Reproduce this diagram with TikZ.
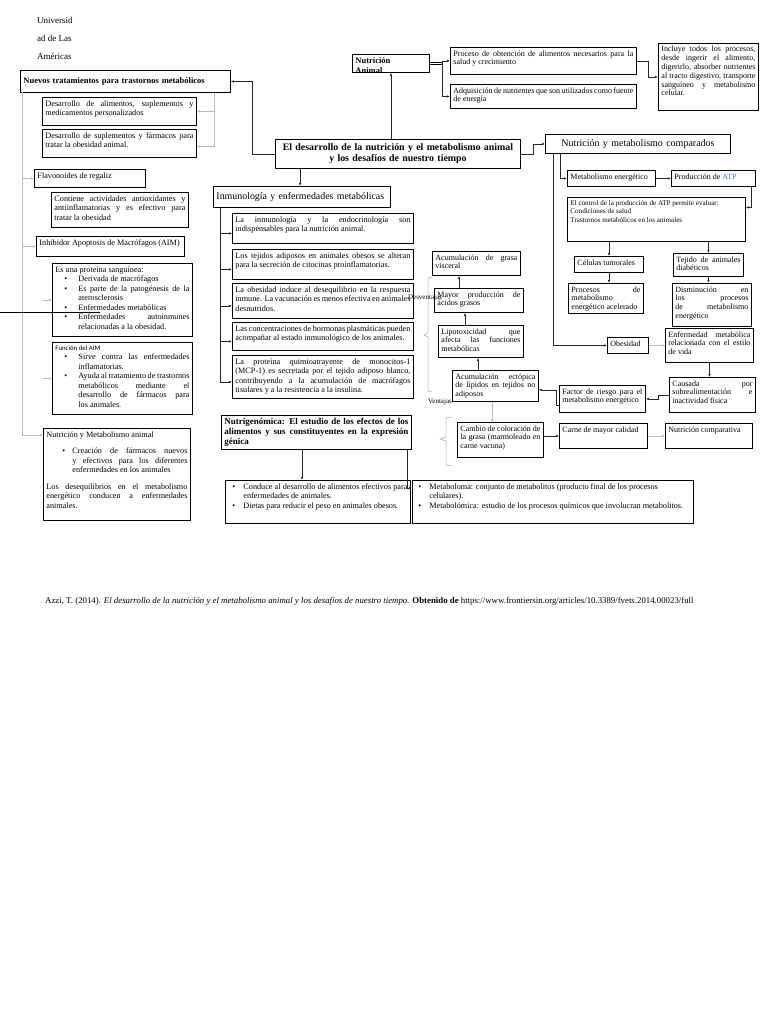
\documentclass[tikz,border=0pt]{standalone}
\usepackage{fontspec}
\setmainfont{Liberation Serif}
\newfontfamily\calfont{Carlito}
\usetikzlibrary{arrows.meta}
\definecolor{atpblue}{RGB}{68,114,196}
\newcommand{\bx}[3]{\parbox[c][#2][t]{#1}{\sloppy\hyphenpenalty=10000\exhyphenpenalty=10000 #3}}
\newcommand{\itm}[3]{\par\hangindent=#2\noindent\hbox to #2{\hskip#1\textbullet\hfil}#3}

\begin{document}
\begin{tikzpicture}[x=1pt,y=-1pt,>={Latex[length=3pt,width=2.4pt]},
  cbox/.style={draw,line width=0.9pt,inner sep=3pt,anchor=north west,font=\fontsize{8.2}{9.5}\selectfont},
  sbox/.style={cbox,font=\fontsize{8}{8.8}\selectfont},
  hbox/.style={cbox,font=\fontsize{8.5}{10}\selectfont\bfseries},
  link/.style={->,line width=0.5pt,black!85},
  glink/.style={link,gray!55}]
\useasboundingbox (0,0) rectangle (768,1024);

% encabezado
\node[anchor=north west,align=left,inner sep=0pt,font=\fontsize{9}{18}\selectfont] (uni) at (37,17) {Universid\\ad de Las\\Américas};

% columna izquierda
\node[hbox,text width=204pt,minimum height=22pt] (nt) at (20,70) {Nuevos tratamientos para trastornos metabólicos};
\node[cbox] (ds1) at (42,97) {\bx{148pt}{22pt}{Desarrollo de alimentos, suplementos y medicamentos personalizados}};
\node[cbox] (ds2) at (42,129) {\bx{148pt}{22pt}{Desarrollo de suplementos y fármacos para tratar la obesidad animal.}};
\node[cbox] (flv) at (34,169) {\bx{105pt}{12pt}{Flavonoides de regaliz}};
\node[cbox] (flvd) at (51,192) {\bx{131pt}{29pt}{Contiene actividades antioxidantes y antiinflamatorias y es efectivo para tratar la obesidad}};
\node[cbox] (aim) at (36,236) {\bx{142pt}{14pt}{Inhibidor Apoptosis de Macrófagos (AIM)}};
\node[cbox] (aimp) at (52,263) {\bx{134pt}{67pt}{Es una proteína sanguínea:
  \itm{9pt}{23pt}{Derivada de macrófagos}
  \itm{9pt}{23pt}{Es parte de la patogénesis de la aterosclerosis}
  \itm{9pt}{23pt}{Enfermedades metabólicas}
  \itm{9pt}{23pt}{Enfermedades autoinmunes relacionadas a la obesidad.}}};
\node[cbox] (aimf) at (52,342) {\bx{134pt}{66pt}{{\calfont\fontsize{6.8}{8.4}\selectfont Función del AIM}
  \itm{9pt}{23pt}{Sirve contra las enfermedades inflamatorias.}
  \itm{9pt}{23pt}{Ayuda al tratamiento de trastornos metabólicos mediante el desarrollo de fármacos para los animales.}}};
\node[cbox] (nma) at (43,428) {\bx{141pt}{86pt}{Nutrición y Metabolismo animal\par\vskip7pt
  \itm{16pt}{26pt}{Creación de fármacos nuevos y efectivos para los diferentes enfermedades en los animales}\par\vskip7pt
  Los desequilibrios en el metabolismo energético conducen a enfermedades animales.}};

% centro
\node[hbox,text width=239pt,minimum height=29pt,align=center,font=\fontsize{9.9}{11}\selectfont\bfseries] (dn) at (275,139) {El desarrollo de la nutrición y el metabolismo animal\\y los desafíos de nuestro tiempo};
\node[hbox] (na) at (352,54) {\bx{71pt}{12pt}{Nutrición\\Animal}};
\node[cbox,text width=171pt,minimum height=21pt,font=\fontsize{9.9}{11}\selectfont] (inm) at (213,186) {Inmunología y enfermedades metabólicas};
\node[cbox] (in1) at (232,213) {\bx{175pt}{24pt}{La inmunología y la endocrinología son indispensables para la nutrición animal.}};
\node[cbox] (in2) at (232,249) {\bx{175pt}{24pt}{Los tejidos adiposos en animales obesos se alteran para la secreción de citocinas proinflamatorias.}};
\node[cbox] (in3) at (232,283) {\bx{175pt}{29pt}{La obesidad induce al desequilibrio en la respuesta inmune. La vacunación es menos efectiva en animales desnutridos.}};
\node[cbox] (in4) at (232,322) {\bx{175pt}{22pt}{Las concentraciones de hormonas plasmáticas pueden acompañar al estado inmunológico de los animales.}};
\node[cbox] (in5) at (232,355) {\bx{175pt}{37pt}{La proteína quimioatrayente de monocitos-1 (MCP-1) es secretada por el tejido adiposo blanco, contribuyendo a la acumulación de macrófagos tisulares y a la resistencia a la insulina.}};
\node[hbox] (ngn) at (221,415) {\bx{184pt}{28pt}{\fontsize{9}{10}\selectfont Nutrigenómica: El estudio de los efectos de los alimentos y sus constituyentes en la expresión génica}};
\node[cbox] (ng1) at (225,480) {\bx{179pt}{37pt}{\itm{4pt}{15pt}{Conduce al desarrollo de alimentos efectivos para enfermedades de animales.}
  \itm{4pt}{15pt}{Dietas para reducir el peso en animales obesos.}}};
\node[cbox] (ng2) at (412,480) {\bx{275pt}{37pt}{\raggedright\itm{3pt}{14pt}{Metaboloma: conjunto de metabolitos (producto final de los procesos celulares).}
  \itm{3pt}{14pt}{Metabolómica: estudio de los procesos químicos que involucran metabolitos.}}};

% derecha arriba
\node[sbox] (p1) at (450,47) {\bx{180pt}{21pt}{Proceso de obtención de alimentos necesarios para la salud y crecimiento}};
\node[sbox] (p2) at (450,84) {\bx{180pt}{18pt}{Adquisición de nutrientes que son utilizados como fuente de energía}};
\node[sbox] (inc) at (658,43) {\bx{94pt}{61pt}{Incluye todos los procesos, desde ingerir el alimento, digerirlo, absorber nutrientes al tracto digestivo, transporte sanguíneo y metabolismo celular.}};
\node[cbox,text width=179pt,minimum height=19pt,align=center,font=\fontsize{10}{11}\selectfont] (nmc) at (545,134) {Nutrición y metabolismo comparados};

% metabolismo energetico
\node[sbox] (me) at (567,170) {\bx{82pt}{10pt}{Metabolismo energético}};
\node[sbox] (atp) at (671,170) {\bx{78pt}{10pt}{Producción de \textcolor{atpblue}{ATP}}};
\node[sbox,font=\fontsize{7.1}{8.6}\selectfont] (ctl) at (567,197) {\bx{172pt}{38pt}{El control de la producción de ATP permite evaluar:\\Condiciones de salud\\Trastornos metabólicos en los animales}};
\node[sbox] (ct) at (574,256) {\bx{63pt}{10pt}{Células tumorales}};
\node[sbox] (td) at (673,253) {\bx{64pt}{17pt}{Tejido de animales diabéticos}};
\node[sbox] (pm) at (568,283) {\bx{69pt}{24pt}{Procesos de metabolismo energético acelerado}};
\node[sbox] (dis) at (672,283) {\bx{73pt}{37pt}{Disminución en los procesos de metabolismo energético}};
\node[sbox] (ob) at (607,337) {\bx{35pt}{10pt}{Obesidad}};
\node[sbox] (eml) at (665,328) {\bx{82pt}{28pt}{Enfermedad metabólica relacionada con el estilo de vida}};
\node[sbox] (cau) at (669,377) {\bx{80pt}{29pt}{Causada por sobrealimentación e inactividad física}};
\node[sbox] (fr) at (559,385) {\bx{80pt}{21pt}{Factor de riesgo para el metabolismo energético}};
\node[sbox] (ael) at (452,370) {\bx{80pt}{25pt}{Acumulación ectópica de lípidos en tejidos no adiposos}};
\node[sbox] (lip) at (438,325) {\bx{79pt}{26pt}{Lipotoxicidad que afecta las funciones metabólicas}};
\node[sbox] (mp) at (434,288) {\bx{83pt}{18pt}{Mayor producción de ácidos grasos}};
\node[sbox] (agv) at (432,251) {\bx{82pt}{18pt}{Acumulación de grasa visceral}};
\node[sbox] (ccg) at (457,422) {\bx{80pt}{29pt}{Cambio de coloración de la grasa (marmoleado en carne vacuna)}};
\node[sbox] (cmc) at (559,423) {\bx{82pt}{19pt}{Carne de mayor calidad}};
\node[sbox] (nc) at (665,423) {\bx{81pt}{19pt}{Nutrición comparativa}};

% llaves
\draw[gray!70,line width=0.5pt] (432,277) -- (428,278) -- (428,333) -- (424,335) -- (428,337) -- (428,391) -- (432,392);
\draw[gray!70,line width=0.5pt] (452,417) -- (446,418) -- (446,437) -- (440,439) -- (446,441) -- (446,465) -- (452,466);
\node[inner sep=0pt,font=\fontsize{7}{8}\selectfont] (dsv) at (425,298) {Desventajas};
\node[inner sep=0pt,font=\fontsize{7}{8}\selectfont] (vnt) at (440,402) {Ventajas};

% conexiones izquierda
\coordinate (trk) at (22,92);
\draw[glink] (trk) |- ([yshift=-7pt]nma.north west);
\draw[glink] (trk |- flv.west) -- (flv.west);
\draw[glink] (trk |- aim.west) -- (aim.west);
\draw[glink] ([xshift=-9pt]aimp.west) -- (aimp.west);
\draw[glink] ([xshift=-9pt]aimf.west) -- (aimf.west);
\draw[glink] ([xshift=-17pt]nt.south east) |- (ds1.east);
\draw[glink] ([xshift=-17pt]nt.south east) |- ([yshift=-3pt]ds2.east);
\draw[line width=0.5pt] (0,312) -- (100,312);

% conexiones centro
\draw[link] (dn.west) -- ++(-23,0) |- (nt.east);
\draw[link] (na.south |- dn.north) -- (na.south);
\draw[link] ([xshift=25pt]dn.south west) -- ([xshift=25pt]dn.south west |- inm.north);
\draw[link] (dn.east) -- ++(12,0) |- (nmc.west);
\foreach \b in {in1,in2,in3,in4,in5}
  \draw[link] ([xshift=7pt]inm.south west) |- ([yshift=-5pt]\b.west);
\draw[link] ([xshift=81pt]ngn.south west) -- ([xshift=81pt]ngn.south west |- ng1.north);
\draw[link] ([xshift=-5pt]ngn.south east) |- ([yshift=-8pt]ng2.north west);

% conexiones derecha
\draw[line width=0.4pt,double,double distance=1.6pt] (na.east) -- ++(12,0) coordinate (nab);
\draw[link] (nab) |- (p1.west);
\draw[link] (nab) |- (p2.west);
\draw[link] (p1.east) -- ++(11,0) |- (inc.west);
\draw[link] ([xshift=15pt]nmc.south west) |- (me.west);
\draw[link] ([xshift=8pt]nmc.south west) |- (ob.west);
\draw[link] (me) -- (atp);
\draw[link] ([xshift=-5pt]atp.south east) |- ([yshift=12pt]ctl.east);
\draw[link] (ct.north |- ctl.south) -- (ct.north);
\draw[link] (td.north |- ctl.south) -- (td.north);
\draw[link] (ct.south) -- (ct.south |- pm.north);
\draw[link] (td.south) -- (td.south |- dis.north);
\draw[glink] (ob) -- (eml);
\draw[link] (eml.south) -- (eml.south |- cau.north);
\draw[link] (cau.west) -- ++(-11,0) |- (fr.east);
\draw[link] ([yshift=-6pt]fr.west) -- ++(-3,0) |- ([yshift=-4pt]ael.east);
\draw[link] ([xshift=26pt]ael.north west) -- ([xshift=26pt]ael.north west |- lip.south);
\draw[link] ([xshift=27pt]lip.north west) -- ([xshift=27pt]lip.north west |- mp.south);
\draw[link] ([xshift=25pt]mp.north west) -- ([xshift=25pt]mp.north west |- agv.south);
\draw[glink] ([xshift=40pt]ael.south west) -- ([xshift=40pt]ael.south west |- ccg.north);
\draw[link] (ccg.east |- cmc.west) -- (cmc.west);
\draw[glink] (cmc) -- (nc);

% referencia
\node[anchor=west,inner sep=0pt,font=\fontsize{8.8}{11}\selectfont] (cita) at (45,601) {Azzi, T. (2014). \textit{El desarrollo de la nutrición y el metabolismo animal y los desafíos de nuestro tiempo.} \textbf{Obtenido de} https://www.frontiersin.org/articles/10.3389/fvets.2014.00023/full};
\end{tikzpicture}
\end{document}
